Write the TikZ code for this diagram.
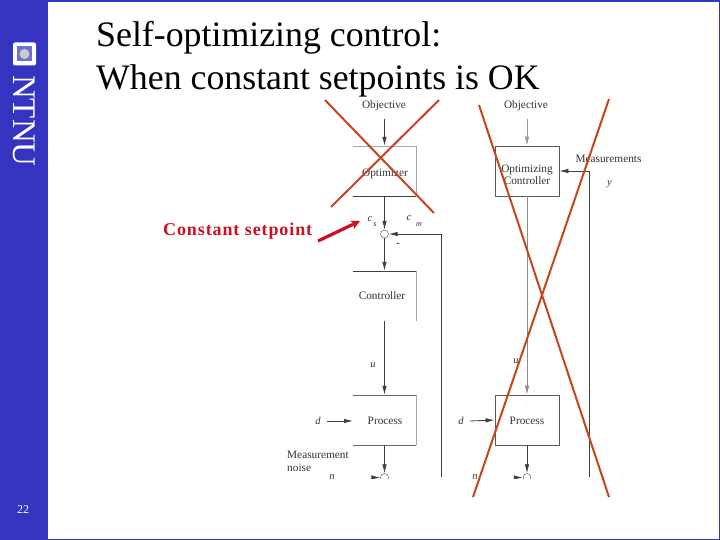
\documentclass[tikz,border=0pt]{standalone}
\usepackage{fontspec}
\setmainfont{Liberation Serif}
\usetikzlibrary{arrows.meta}
\definecolor{ntnublue}{HTML}{3434C0}
\definecolor{crosscol}{HTML}{C8441C}
\definecolor{setred}{HTML}{CC1020}
\begin{document}
\begin{tikzpicture}[x=1pt,y=-1pt,
  lab/.style={font=\fontsize{11.3}{12}\selectfont,text=black!80,inner sep=0pt},
  mathlab/.style={font=\fontsize{10.5}{12}\selectfont\itshape,text=black!80,inner sep=0pt},
  blockbox/.style={minimum width=63pt,minimum height=50pt,inner sep=0pt},
  sumnode/.style={circle,draw=black!70,minimum size=8pt,inner sep=0pt},
  sig/.style={black!75,line width=0.8pt,-{Latex[length=9pt,width=4.5pt]}},
  plainsig/.style={black!75,line width=0.8pt},
  cross/.style={crosscol,line width=2pt}]
\useasboundingbox (0,0) rectangle (720,540);
% slide frame
\fill[white] (0,0) rectangle (720,540);
\fill[ntnublue] (0,0) rectangle (48,540);
\fill[ntnublue] (0,0) rectangle (720,2);
\fill[ntnublue] (0,538.5) rectangle (720,540);
\fill[ntnublue] (719,0) rectangle (720,540);
% logo
\node[fill=white,rounded corners=2pt,minimum size=23pt,inner sep=0pt] (logobox) at (24.5,54) {};
\node[fill=ntnublue!70,minimum size=15pt,inner sep=0pt] (logoin) at (logobox) {};
\node[fill=black!20,circle,minimum size=10pt,inner sep=0pt] (logodot) at (logobox) {};
\node[anchor=center,rotate=-90,text=white,inner sep=0pt,font=\fontsize{33}{35}\selectfont] (logotext) at (24.5,121) {NTNU};
\node[text=white,inner sep=0pt,font=\fontsize{12}{14}\selectfont] (pageno) at (23,510) {22};
% title
\node[anchor=base west,inner sep=0pt,font=\fontsize{35.8}{38}\selectfont] (titlea) at (96,47) {Self-optimizing control:};
\node[anchor=base west,inner sep=0pt,font=\fontsize{35.8}{38}\selectfont] (titleb) at (96,89.5) {When constant setpoints is OK};
% left scheme
\node[lab] (objl) at (384,106) {Objective};
\node[blockbox] (optl) at (384.5,171) {};
\node[lab] (optltxt) at (385,174) {Optimizer};
\node[sumnode] (suml) at (384.5,234) {};
\node[blockbox] (ctrl) at (384.5,296) {};
\node[lab] (ctrltxt) at (382,295.5) {Controller};
\node[blockbox] (procl) at (384.5,420) {};
\node[lab] (procltxt) at (385,421) {Process};
\node[sumnode] (noisel) at (384.5,477.5) {};
\draw[black!35] (optl.north west) -- (optl.north east) -- (optl.south east);
\draw[black!75] (optl.south west) -- (optl.south east);
\draw[black!75] (ctrl.north west) -- (ctrl.north east);
\draw[black!35] (ctrl.north east) -- (ctrl.south east);
\draw[black!60] (procl.north west) -- (procl.north east);
\draw[black!35] (procl.north east) -- (procl.south east);
\draw[black!60] (procl.south east) -- (procl.south west);
\coordinate (objlend) at (384.5,119);
\coordinate (ufromctrl) at (384.5,321);
\coordinate (dlstart) at (327,421);
\coordinate (dlend) at (353,421);
\coordinate (nlstart) at (372,477.5);
\coordinate (fbbot) at (441.5,477);
\coordinate (fbtop) at (441.5,234);
\draw[sig] (objlend) -- (optl.north);
\draw[sig] (optl.south) -- (suml.north);
\draw[sig] (suml.south) -- (ctrl.north);
\draw[sig] (ufromctrl) -- (procl.north);
\draw[sig] (dlstart) -- (dlend);
\draw[sig] (procl.south) -- (noisel.north);
\draw[sig] (nlstart) -- (noisel.west);
\draw[plainsig] (fbbot) -- (fbtop);
\draw[sig] (fbtop) -- (suml.east);
\node[mathlab] (csl) at (370,219) {c};
\node[mathlab,font=\fontsize{8}{9}\selectfont\itshape] (csub) at (375,225) {s};
\node[mathlab] (cml) at (409,218) {c};
\node[mathlab,font=\fontsize{8}{9}\selectfont\itshape] (cmsub) at (419,225) {m};
\node[lab] (minusl) at (398,245) {-};
\node[mathlab] (ul) at (373,365) {u};
\node[mathlab] (dl) at (318,421) {d};
\node[mathlab] (nl) at (332,477) {n};
\node[lab,align=left,anchor=north west] (noisetxt) at (287,451) {Measurement\\[1pt]noise};
% right scheme
\node[lab] (objr) at (526,106) {Objective};
\node[blockbox,draw=black!65,line width=0.8pt,minimum width=64pt] (optr) at (527,171) {};
\node[lab,align=center] (optrtxt) at (527,174.5) {Optimizing\\Controller};
\node[blockbox,draw=black!65,line width=0.8pt,minimum width=64pt] (procr) at (527,420) {};
\node[lab] (procrtxt) at (527,421) {Process};
\node[sumnode] (noiser) at (527,477.5) {};
\coordinate (objrend) at (527,119);
\coordinate (drstart) at (470,421);
\coordinate (nrstart) at (515,477.5);
\coordinate (mbot) at (589,477);
\coordinate (mtop) at (589,171);
\draw[sig,black!40] (objrend) -- (optr.north);
\draw[sig,black!45] (optr.south) -- (procr.north);
\draw[sig] (drstart) -- (procr.west);
\draw[sig] (procr.south) -- (noiser.north);
\draw[sig] (nrstart) -- (noiser.west);
\draw[plainsig] (mbot) -- (mtop);
\draw[sig] (mtop) -- (optr.east);
\node[lab] (meas) at (608.5,159) {Measurements};
\node[mathlab] (yr) at (609.5,184) {y};
\node[mathlab] (ur) at (516,361) {u};
\node[mathlab] (dr) at (461,421) {d};
\node[mathlab] (nr) at (475,477) {n};
% cut the scan off at the bottom
\fill[white] (360,478.5) rectangle (400,486);
\fill[white] (505,478.5) rectangle (540,486);
% crosses
\coordinate (xla) at (325,100);
\coordinate (xlb) at (434,213);
\coordinate (xlc) at (439,100);
\coordinate (xld) at (331,207);
\coordinate (xra) at (479,105);
\coordinate (xrb) at (609,497);
\coordinate (xrc) at (609,99);
\coordinate (xrd) at (473,497);
\draw[cross] (xla) -- (xlb);
\draw[cross] (xlc) -- (xld);
\draw[cross] (xra) -- (xrb);
\draw[cross] (xrc) -- (xrd);
% constant setpoint
\node[anchor=base west,inner sep=0pt,text=setred,font=\fontsize{18}{20}\selectfont\bfseries\addfontfeature{LetterSpace=5}] (settxt) at (163,236) {Constant setpoint};
\coordinate (arrstart) at (318,241);
\coordinate (arrend) at (360,221);
\draw[setred,line width=3.2pt,-{Stealth[length=9pt,width=9pt]}] (arrstart) -- (arrend);
\end{tikzpicture}
\end{document}
